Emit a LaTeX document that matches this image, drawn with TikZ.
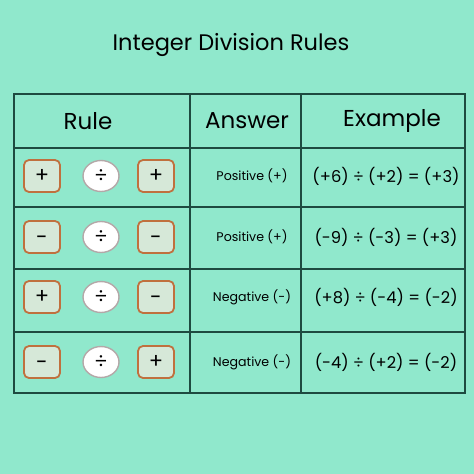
\documentclass[tikz,border=0pt]{standalone}
\usepackage{fontspec}
\usetikzlibrary{shapes.geometric}
\setmainfont{Poppins}
\definecolor{bg}{HTML}{90E8CC}
\definecolor{grid}{HTML}{1E4A40}
\definecolor{boxfill}{HTML}{D6E8D8}
\definecolor{boxline}{HTML}{C0703E}
\definecolor{circline}{HTML}{B4A8A8}
\newcommand{\boxminus}{\vphantom{+}\raisebox{-2.5pt}{-}}
\begin{document}
\begin{tikzpicture}[x=1pt,y=-1pt,
  signbox/.style={draw=boxline,fill=boxfill,line width=1.8pt,rounded corners=5pt,minimum width=36pt,minimum height=32pt,inner sep=0pt,font=\fontsize{21}{21}\selectfont},
  divcirc/.style={draw=circline,fill=white,line width=1.4pt,ellipse,minimum width=36pt,minimum height=31pt,inner sep=0pt,font=\fontsize{20}{20}\selectfont},
  head/.style={font=\fontsize{23}{24}\selectfont},
  ans/.style={font=\fontsize{12.6}{13}\selectfont},
  ex/.style={font=\fontsize{16.3}{17}\selectfont},
  gridline/.style={draw=grid,line width=1.1pt}]
\fill[bg] (0,0) rectangle (474,474);
\useasboundingbox (0,0) rectangle (474,474);
\node[font=\fontsize{22.5}{24}\selectfont] (title) at (231,45) {Integer Division Rules};
% grid
\draw[gridline] (14,94) rectangle (465,393);
\draw[gridline] (14,148) -- (465,148);
\draw[gridline] (14,207) -- (465,207);
\draw[gridline] (14,269) -- (465,269);
\draw[gridline] (14,332) -- (465,332);
\draw[gridline] (190,94) -- (190,393);
\draw[gridline] (301,94) -- (301,393);
% headers
\node[head] (hrule) at (88,121) {Rule};
\node[head] (hans) at (247,121) {Answer};
\node[head] (hex) at (392,121) {Example};
% row 1
\node[signbox] (a1) at (42,176) {+};
\node[divcirc] (d1) at (101,176) {÷};
\node[signbox] (b1) at (156,176) {+};
\node[ans] (r1) at (252,176) {Positive (+)};
\node[ex] (e1) at (386,176) {(+6) ÷ (+2) = (+3)};
% row 2
\node[signbox] (a2) at (42,237) {\boxminus};
\node[divcirc] (d2) at (101,237) {÷};
\node[signbox] (b2) at (156,237) {\boxminus};
\node[ans] (r2) at (252,237) {Positive (+)};
\node[ex] (e2) at (386,237) {(-9) ÷ (-3) = (+3)};
% row 3
\node[signbox] (a3) at (42,297) {+};
\node[divcirc] (d3) at (101,297) {÷};
\node[signbox] (b3) at (156,297) {\boxminus};
\node[ans] (r3) at (252,297) {Negative (-)};
\node[ex] (e3) at (386,297) {(+8) ÷ (-4) = (-2)};
% row 4
\node[signbox] (a4) at (42,362) {\boxminus};
\node[divcirc] (d4) at (101,362) {÷};
\node[signbox] (b4) at (156,362) {+};
\node[ans] (r4) at (252,362) {Negative (-)};
\node[ex] (e4) at (386,362) {(-4) ÷ (+2) = (-2)};
\end{tikzpicture}
\end{document}
